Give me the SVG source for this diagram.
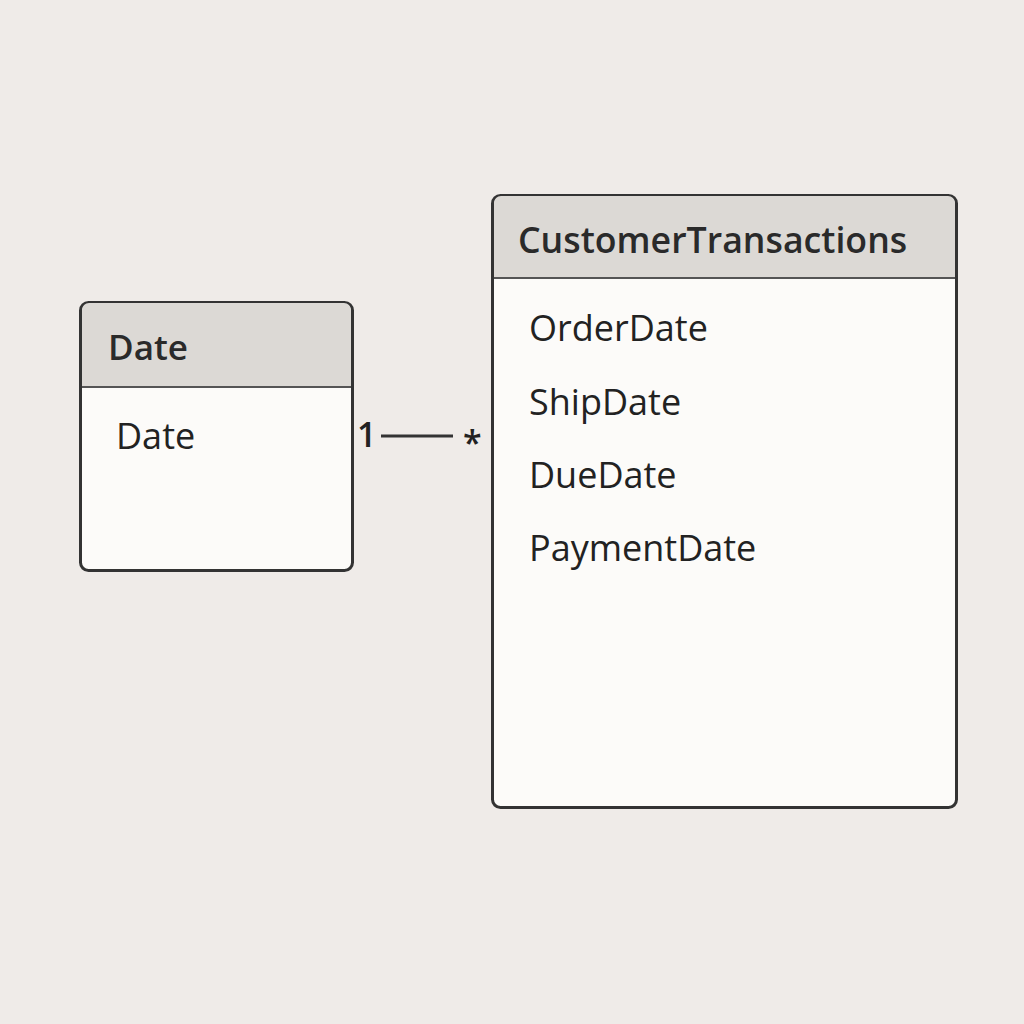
<svg xmlns="http://www.w3.org/2000/svg" width="1024" height="1024" viewBox="0 0 1024 1024">
<style>
.box{fill:#fcfbf9;stroke:#333;stroke-width:3}
.hdr{fill:#dcd9d5}
.sep{stroke:#555;stroke-width:2}
.title{font-family:"Open Sans","Noto Sans",sans-serif;font-weight:600;font-size:35px;fill:#2a2a2a}
.field{font-family:"Open Sans","Noto Sans",sans-serif;font-size:36px;fill:#222}
.card{font-family:"Open Sans","Noto Sans",sans-serif;font-weight:600;font-size:34px;fill:#222}
</style>
<rect width="1024" height="1024" fill="#efebe8"/>
<g id="node-date">
<rect class="box" x="80.500" y="302.500" width="272" height="268" rx="8"/>
<path class="hdr" d="M82,388 V310 a7,7 0 0 1 7,-7 H344 a7,7 0 0 1 7,7 V388 Z"/>
<line class="sep" x1="82" y1="387" x2="351" y2="387"/>
<text class="title" x="108" y="360">Date</text>
<text class="field" x="116" y="449">Date</text>
</g>
<g id="node-customertransactions">
<rect class="box" x="492.500" y="195.500" width="464" height="612" rx="8"/>
<path class="hdr" d="M494,279 V203 a7,7 0 0 1 7,-7 H948 a7,7 0 0 1 7,7 V279 Z"/>
<line class="sep" x1="494" y1="278" x2="955" y2="278"/>
<text class="title" x="518" y="253" style="font-size:35.7px">CustomerTransactions</text>
<text class="field" x="529" y="341">OrderDate</text>
<text class="field" x="529" y="415">ShipDate</text>
<text class="field" x="529" y="488">DueDate</text>
<text class="field" x="529" y="561">PaymentDate</text>
</g>
<g id="connectors">
<line x1="381" y1="436" x2="453" y2="436" stroke="#333" stroke-width="3"/>
<text class="card" x="357" y="447">1</text>
<text class="card" x="463" y="455">*</text>
</g>
</svg>
